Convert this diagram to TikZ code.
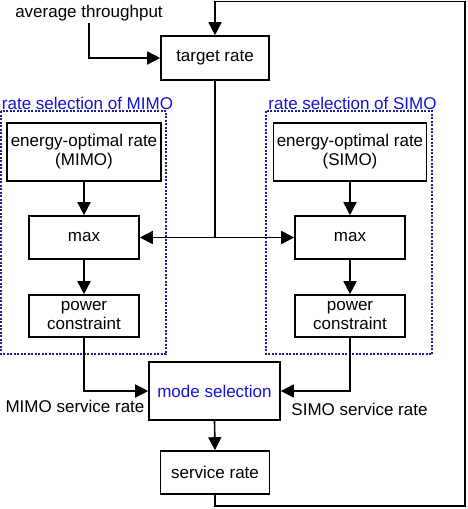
\documentclass[tikz,border=0pt]{standalone}
\usepackage{fontspec}
\setmainfont{Liberation Sans}
\usetikzlibrary{arrows.meta}
\definecolor{navyd}{RGB}{30,30,140}
\definecolor{blu}{RGB}{20,20,210}
\tikzset{
  blk/.style={draw, line width=1.6pt, align=center, inner sep=0pt, font=\fontsize{17}{19}\selectfont},
  lbl/.style={inner sep=0pt, font=\fontsize{17}{19}\selectfont},
  conn/.style={line width=1.6pt},
  arr/.style={line width=1.6pt, -{Triangle[length=13pt,width=13pt]}},
  grp/.style={draw=navyd, line width=1.2pt, dash pattern=on 2pt off 1.5pt},
}
\begin{document}
\begin{tikzpicture}[x=1pt,y=-1pt]
\useasboundingbox (0,0) rectangle (467,509);
% group boxes
\draw[grp] (1,111) rectangle (166,354);
\draw[grp] (266,111) rectangle (432,354);
\node[lbl, text=blu] (gl) at (87.5,103) {rate selection of MIMO};
\node[lbl, text=blu] (gr) at (352.5,103) {rate selection of SIMO};
% nodes
\node[lbl] (avg) at (89,13) {average throughput};
\node[blk, minimum width=108pt, minimum height=44pt] (tr) at (215,58) {target rate};
\node[blk, minimum width=154pt, minimum height=58pt] (eL) at (84,152) {energy-optimal rate\\(MIMO)};
\node[blk, minimum width=153pt, minimum height=58pt] (eR) at (350,152) {energy-optimal rate\\(SIMO)};
\node[blk, minimum width=110pt, minimum height=43pt] (mL) at (84,237.5) {max};
\node[blk, minimum width=110pt, minimum height=43pt] (mR) at (350,237.5) {max};
\node[blk, minimum width=110pt, minimum height=42pt] (pL) at (84,316) {power\\constraint};
\node[blk, minimum width=110pt, minimum height=42pt] (pR) at (350,316) {power\\constraint};
\node[blk, minimum width=131pt, minimum height=58pt, text=blu] (ms) at (214.5,391) {mode selection};
\node[blk, minimum width=109pt, minimum height=43pt] (sr) at (215,472.5) {service rate};
\node[lbl] (lm) at (75,406) {MIMO service rate};
\node[lbl] (ls) at (359.5,409) {SIMO service rate};
% connectors
\coordinate (j) at (215,237.5);
\coordinate (c1) at (215,506);
\coordinate (c2) at (465,506);
\coordinate (c3) at (465,1.5);
\coordinate (c4) at (215,1.5);
\draw[arr] (avg.south) ++(0,2) |- (tr.west);
\draw[conn] (tr.south) -- (j);
\draw[arr] (j) -- (mL.east);
\draw[arr] (j) -- (mR.west);
\draw[arr] (eL.south) -- (mL.north);
\draw[arr] (eR.south) -- (mR.north);
\draw[arr] (mL.south) -- (pL.north);
\draw[arr] (mR.south) -- (pR.north);
\draw[arr] (pL.south) |- (ms.west);
\draw[arr] (pR.south) |- (ms.east);
\draw[arr] (ms.south) -- (sr.north);
\draw[arr] (sr.south) -- (c1) -- (c2) -- (c3) -- (c4) -- (tr.north);
\end{tikzpicture}
\end{document}
